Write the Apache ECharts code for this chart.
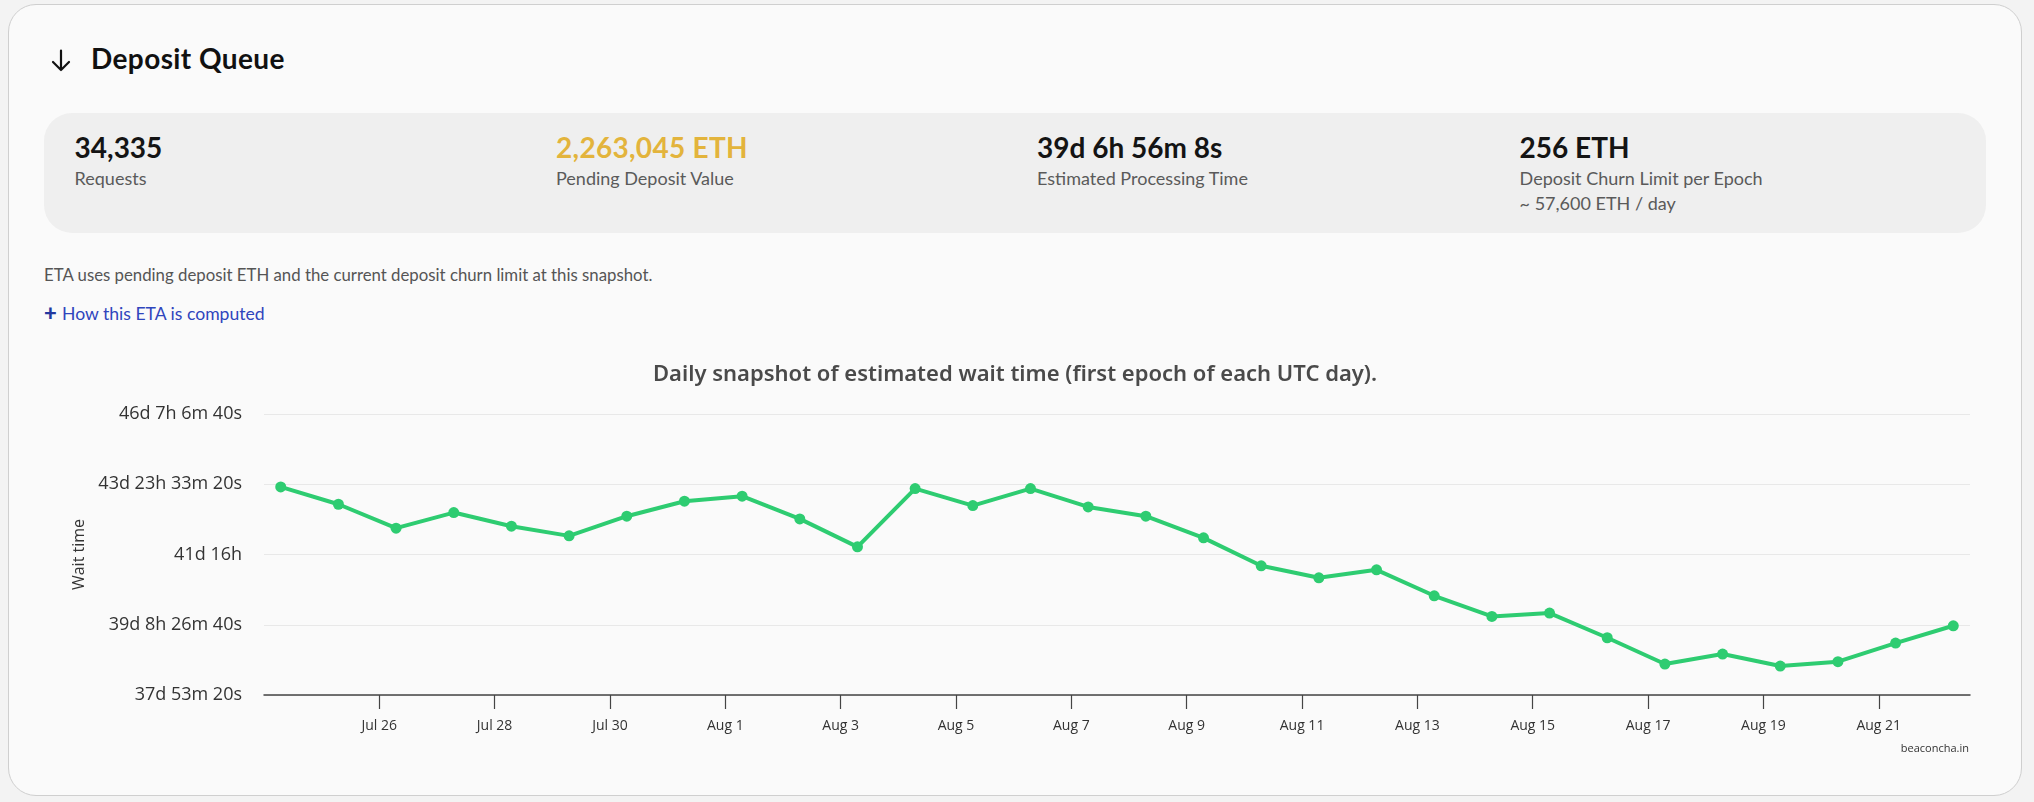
<!DOCTYPE html>
<html>
<head>
<meta charset="utf-8">
<script src="https://cdn.jsdelivr.net/npm/echarts@6/dist/echarts.min.js"></script>
<style>
  html, body { margin: 0; padding: 0; }
  body { width: 2034px; height: 802px; background: #f3f3f3; position: relative; overflow: hidden; font-family: Lato, "Noto Sans", sans-serif; }
  .abs { position: absolute; white-space: nowrap; line-height: 1.2; }
  .card { position: absolute; left: 8px; top: 4px; width: 2014px; height: 792px; box-sizing: border-box; border: 1px solid #cfcfcf; border-radius: 28px; background: #fafafa; }
  .arrow { position: absolute; left: 50px; top: 49px; width: 22px; height: 23px; }
  .title { left: 91px; top: 41.8px; font-size: 28px; font-weight: 700; color: #111; letter-spacing: 0.4px; }
  .stats { position: absolute; left: 44px; top: 113px; width: 1942px; height: 120px; border-radius: 28px; background: #efefef; }
  .val { top: 130.7px; font-size: 28px; font-weight: 700; color: #141414; }
  .lbl { top: 166.3px; font-size: 18px; line-height: 24.6px; color: #5a5a5a; }
  .gold { color: #e3b43c; letter-spacing: 0.3px; }
  .desc { left: 44px; top: 265px; font-size: 16.8px; color: #555; }
  .link { left: 44px; top: 303px; font-size: 17.6px; color: #2f45bd; }
  .plus { display: inline-block; width: 18px; font-weight: 900; font-size: 22px; line-height: 17px; color: #23389f; vertical-align: -1px; }
  #chart { position: absolute; left: 44px; top: 340px; width: 1942px; height: 440px; }
</style>
</head>
<body>
<div class="card"></div>
<svg class="arrow" viewBox="0 0 22 23"><path d="M11 1.5 V21 M3 13 L11 21 L19 13" fill="none" stroke="#111" stroke-width="2.2" stroke-linecap="round" stroke-linejoin="round"/></svg>
<div class="abs title">Deposit Queue</div>
<div class="stats"></div>
<div class="abs val" style="left:74.6px">34,335</div>
<div class="abs lbl" style="left:74.6px">Requests</div>
<div class="abs val gold" style="left:556px">2,263,045 ETH</div>
<div class="abs lbl" style="left:556px">Pending Deposit Value</div>
<div class="abs val" style="left:1037px">39d 6h 56m 8s</div>
<div class="abs lbl" style="left:1037px">Estimated Processing Time</div>
<div class="abs val" style="left:1519.6px">256 ETH</div>
<div class="abs lbl" style="left:1519.6px">Deposit Churn Limit per Epoch<br>~ 57,600 ETH / day</div>
<div class="abs desc">ETA uses pending deposit ETH and the current deposit churn limit at this snapshot.</div>
<div class="abs link"><span class="plus">+</span>How this ETA is computed</div>
<div id="chart"></div>
<script>
// ---- data ----
const snapshotDates = [
  '2025-07-24','2025-07-25','2025-07-26','2025-07-27','2025-07-28','2025-07-29','2025-07-30','2025-07-31',
  '2025-08-01','2025-08-02','2025-08-03','2025-08-04','2025-08-05','2025-08-06','2025-08-07','2025-08-08',
  '2025-08-09','2025-08-10','2025-08-11','2025-08-12','2025-08-13','2025-08-14','2025-08-15','2025-08-16',
  '2025-08-17','2025-08-18','2025-08-19','2025-08-20','2025-08-21','2025-08-22'
];
// estimated wait time in seconds at each daily snapshot
const waitTimeSeconds = [
  3792400, 3743100, 3674900, 3719400, 3680600, 3653100, 3709000, 3751700,
  3765900, 3701400, 3621800, 3787700, 3739300, 3787700, 3735500, 3709000,
  3647400, 3567800, 3533600, 3556400, 3482500, 3423700, 3433200, 3363000,
  3288100, 3316600, 3282500, 3294800, 3347800, 3397100
];
const xTickDates = [
  '2025-07-26','2025-07-28','2025-07-30','2025-08-01','2025-08-03','2025-08-05','2025-08-07',
  '2025-08-09','2025-08-11','2025-08-13','2025-08-15','2025-08-17','2025-08-19','2025-08-21'
];
const yMin = 3200000, yMax = 4000000, yInterval = 200000;
const displayUtcOffsetHours = 7; // viewer's timezone used for the axis
const chartTitle = 'Daily snapshot of estimated wait time (first epoch of each UTC day).';
const yAxisName = 'Wait time';
const watermark = 'beaconcha.in';

// ---- helpers ----
const MONTHS = ['Jan','Feb','Mar','Apr','May','Jun','Jul','Aug','Sep','Oct','Nov','Dec'];
const toDisplayTime = d => Date.parse(d + 'T00:00:00Z') + displayUtcOffsetHours * 3600000;
const toMidnight = d => Date.parse(d + 'T00:00:00Z');
function fmtDuration(sec) {
  sec = Math.round(sec);
  const d = Math.floor(sec / 86400); sec -= d * 86400;
  const h = Math.floor(sec / 3600); sec -= h * 3600;
  const m = Math.floor(sec / 60); const s = sec - m * 60;
  const parts = [];
  if (d) parts.push(d + 'd');
  if (h) parts.push(h + 'h');
  if (m) parts.push(m + 'm');
  if (s) parts.push(s + 's');
  return parts.join(' ') || '0s';
}
function fmtDate(v) {
  const dt = new Date(v);
  return MONTHS[dt.getUTCMonth()] + ' ' + dt.getUTCDate();
}

const seriesData = snapshotDates.map((d, i) => [toDisplayTime(d), waitTimeSeconds[i]]);
const tickValues = xTickDates.map(toMidnight);

const axisFont = '"Open Sans", "Noto Sans", sans-serif';
const chart = echarts.init(document.getElementById('chart'), null, { renderer: 'canvas' });
chart.setOption({
  animation: false,
  backgroundColor: 'transparent',
  title: {
    text: chartTitle,
    left: 'center',
    top: 19,
    textStyle: { fontFamily: '"Noto Sans", sans-serif', fontSize: 22, fontWeight: 600, color: '#4a4a4a' }
  },
  grid: { left: 220, right: 16, top: 74, height: 281 },
  xAxis: {
    type: 'value',
    scale: true,
    min: v => v.min - (v.max - v.min) * 0.01,
    max: v => v.max + (v.max - v.min) * 0.01,
    axisLine: { show: true, lineStyle: { color: '#444', width: 1.5 } },
    axisTick: { show: true, length: 14, customValues: tickValues, lineStyle: { color: '#444', width: 1.2 } },
    axisLabel: { customValues: tickValues, formatter: fmtDate, margin: 24, fontSize: 14, color: '#333', fontFamily: axisFont },
    splitLine: { show: false }
  },
  yAxis: {
    type: 'value',
    min: yMin, max: yMax, interval: yInterval,
    name: yAxisName,
    nameLocation: 'middle',
    nameRotate: 90,
    nameGap: 177,
    nameTextStyle: { fontSize: 16, color: '#333', fontFamily: axisFont },
    axisLine: { show: false },
    axisTick: { show: false },
    axisLabel: { formatter: fmtDuration, margin: 22, fontSize: 18, color: '#333', fontFamily: axisFont },
    splitLine: { lineStyle: { color: '#e8e8e8', width: 1.2 } }
  },
  graphic: [{
    type: 'text', right: 17, top: 403,
    style: { text: watermark, fontSize: 11, fill: '#333', fontFamily: axisFont }
  }],
  series: [{
    type: 'line',
    data: seriesData,
    symbol: 'circle',
    symbolSize: 11,
    showSymbol: true,
    lineStyle: { color: '#2ecc71', width: 4 },
    itemStyle: { color: '#2ecc71' }
  }]
});
</script>
</body>
</html>
